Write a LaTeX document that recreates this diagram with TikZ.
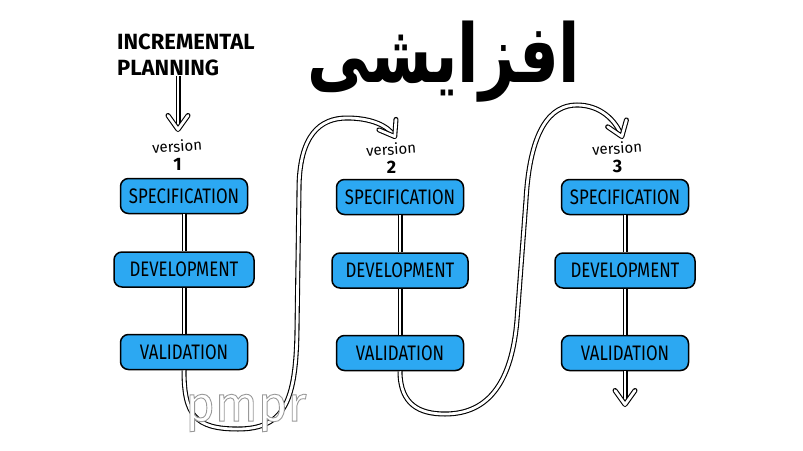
\documentclass[tikz,border=0pt]{standalone}
\usepackage{fontspec}
\setmainfont{Fira Sans}
\newfontfamily\handfont[FakeStretch=0.8]{Fira Sans}
\newfontfamily\arabicfont[Script=Arabic]{DejaVu Sans}
\TeXXeTstate=1
\usepackage{tikz}
\usetikzlibrary{positioning}
\usetikzlibrary{decorations.markings}

\definecolor{boxblue}{HTML}{2CA8F2}
\newcommand{\outlined}[1]{\special{pdf:literal direct 2 Tr 0.9 w 0.6 G}#1\special{pdf:literal direct 0 Tr}}

\begin{document}
\begin{tikzpicture}[
            x = 1pt, y = -1pt, % pixel grid
            dbl/.style = {draw = black, line width = 1.1pt, double = white, double distance = 2.8pt},
            chev/.style = {postaction = {decorate, decoration = {markings,
                mark = at position -0.5pt with {\draw[dbl, line join = round, line cap = round] (-14pt,10pt) -- (0pt,0pt) -- (-14pt,-10pt);}}}},
            phase/.style = {draw = black, line width = 1.5pt, fill = boxblue, rounded corners = 8pt,
                minimum height = 35pt, minimum width = 127pt, inner xsep = 7pt, font = \handfont\fontsize{21}{21}\selectfont},
            ver/.style = {font = \fontsize{15}{15}\selectfont, rotate = 4, inner sep = 0pt},
            num/.style = {font = \bfseries\fontsize{18}{18}\selectfont, inner sep = 0pt}
            ]

        \useasboundingbox (0,0) rectangle (803,450);

        % heading and title
        \node[anchor = north west, align = left, inner sep = 0pt,
              font = \bfseries\fontsize{22}{26}\selectfont] (plan) at (117,34) {INCREMENTAL\\PLANNING};
        \node (title) at (444,62) {\scalebox{1.04}[1.35]{\arabicfont\bfseries\fontsize{60}{60}\selectfont\beginR افزایشی\endR}};

        \coordinate (T1) at (178,130);
        \draw[dbl, chev] (plan.south -| T1) -- (T1);

        % version 1
        \node[ver] (ver1) at (177,146) {version};
        \node[num] (num1) [below = 6pt of ver1] {1};
        \node[phase] (S1) at (184,196) {SPECIFICATION};
        \node[phase, minimum width = 140pt] (D1) [below = 37pt of S1] {DEVELOPMENT};
        \node[phase] (V1) [below = 46pt of D1] {VALIDATION};
        \draw[dbl] (S1) -- (D1);
        \draw[dbl] (D1) -- (V1);

        % version 2
        \node[ver] (ver2) at (391,149) {version};
        \node[num] (num2) [below = 6pt of ver2] {2};
        \node[phase] (S2) at (400,197) {SPECIFICATION};
        \node[phase, minimum width = 136pt] (D2) [below = 37pt of S2] {DEVELOPMENT};
        \node[phase] (V2) [below = 46pt of D2] {VALIDATION};
        \draw[dbl] (S2) -- (D2);
        \draw[dbl] (D2) -- (V2);

        % version 3
        \node[ver] (ver3) at (617,148) {version};
        \node[num] (num3) [below = 6pt of ver3] {3};
        \node[phase] (S3) at (625,197) {SPECIFICATION};
        \node[phase, minimum width = 140pt] (D3) [below = 37pt of S3] {DEVELOPMENT};
        \node[phase] (V3) [below = 46pt of D3] {VALIDATION};
        \draw[dbl] (S3) -- (D3);
        \draw[dbl] (D3) -- (V3);

        % loops between versions
        \coordinate (T2) at (395,137);
        \draw[dbl, chev] (V1.south) .. controls (184,415) and (195,429) .. (238,429)
              .. controls (285,429) and (296,400) .. (297,330) -- (299,190)
              .. controls (299,135) and (320,118) .. (347,118)
              .. controls (370,118) and (388,125) .. (T2);

        \coordinate (T3) at (622,137);
        \draw[dbl, chev] (V2.south) .. controls (400,405) and (420,414) .. (445,414)
              .. controls (490,414) and (512,380) .. (517,320) -- (526,200)
              .. controls (530,130) and (550,105) .. (577,105)
              .. controls (600,105) and (616,120) .. (T3);

        \coordinate (T4) at (625,405);
        \draw[dbl, chev] (V3) -- (T4);

        % watermark
        \node[font = \fontsize{50}{50}\selectfont, text = white, inner sep = 0pt] (wm) at (246,413) {\outlined{pmpr}};

\end{tikzpicture}
\end{document}
